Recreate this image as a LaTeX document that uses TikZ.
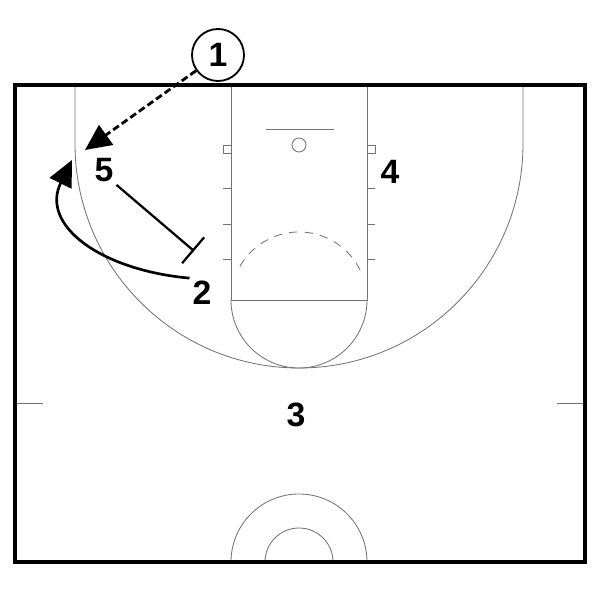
\documentclass[tikz,border=0pt]{standalone}
\usepackage{fontspec}
\setmainfont{Liberation Sans}
\usepackage{tikz}
\usetikzlibrary{arrows.meta}

\tikzset{
	court/.style={line width=0.6pt, black!55},
	boundary/.style={line width=2.8pt, black},
	player/.style={font=\fontsize{24}{28}\selectfont\bfseries, inner sep=2pt},
	ballhandler/.style={player, draw, circle, line width=1.3pt, minimum size=1.3cm, inner sep=0pt},
	pass/.style={line width=2pt, dash pattern=on 5pt off 2.5pt, -{Triangle[length=6.5mm, width=6mm]}},
	cut/.style={line width=1.9pt, -{Triangle[length=6.5mm, width=6mm]}},
	screen/.style={line width=1.6pt, -{Bar[width=8.5mm, line width=1.6pt]}},
}

\begin{document}
\begin{tikzpicture}[x=0.025cm, y=0.025cm]
		\useasboundingbox (0,0) rectangle (600,600);
		% lane and free throw circle
		\draw [court] (231,515) -- (231,300) -- (367,300) -- (367,515);
		\draw [court] (231,300) arc [start angle=180, end angle=360, radius=68];
		\draw [court, dashed, dash pattern=on 6pt off 5pt] (299,300) ++(26:68) arc [start angle=26, end angle=154, radius=68];
		% three point line
		\draw [court] (75,515) -- (75,456) arc [start angle=180, end angle=360, radius=224] -- (523,515);
		% basket
		\draw [court] (266,471) -- (334,471);
		\draw [court] (299,455) circle [radius=7];
		% lane marks
		\draw [court] (223,447) rectangle (231,455);
		\draw [court] (367,447) rectangle (375,455);
		\foreach \y in {412,376,341}{
			\draw [court] (223,\y) -- (231,\y);
			\draw [court] (367,\y) -- (375,\y);
		}
		% side marks
		\draw [court] (15,197) -- (43,197);
		\draw [court] (557,197) -- (585,197);
		% center circle
		\draw [court] (231,38) arc [start angle=180, end angle=0, radius=68];
		\draw [court] (265,38) arc [start angle=180, end angle=0, radius=34];
		% boundary
		\draw [boundary] (15,38) rectangle (585,515);

		% players
		\node [ballhandler] (p1) at (218,545) {1};
		\node [player] (p2) at (202,307) {2};
		\node [player] (p3) at (296,185) {3};
		\node [player] (p4) at (390,428) {4};
		\node [player] (p5) at (104,430) {5};
		\coordinate (passend) at (85,450);
		\coordinate (cutend) at (72,440);
		\coordinate (screenend) at (194,349);

		% actions
		\draw [pass] (p1) -- (passend);
		\draw [screen] (p5.south east) -- (screenend);
		\draw [cut] (p2.north west) .. controls (100,330) and (40,375) .. (cutend);
	\end{tikzpicture}
\end{document}
